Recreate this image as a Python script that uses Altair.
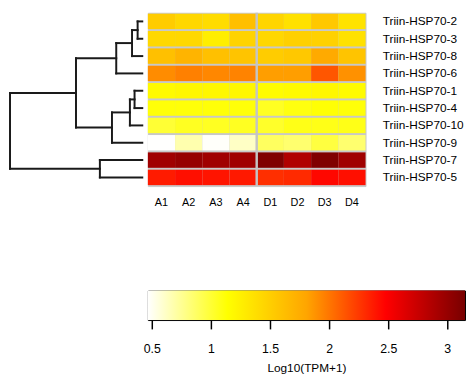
import altair as alt
import pandas as pd

# ---------------- data ----------------
genes = ["Triin-HSP70-2", "Triin-HSP70-3", "Triin-HSP70-8", "Triin-HSP70-6",
         "Triin-HSP70-1", "Triin-HSP70-4", "Triin-HSP70-10", "Triin-HSP70-9",
         "Triin-HSP70-7", "Triin-HSP70-5"]
samples = ["A1", "A2", "A3", "A4", "D1", "D2", "D3", "D4"]

v_hsp2 = [1.52, 1.44, 1.40, 1.62, 1.45, 1.36, 1.55, 1.35]
v_hsp3 = [1.43, 1.43, 1.27, 1.47, 1.44, 1.49, 1.48, 1.36]
v_hsp8 = [1.61, 1.70, 1.61, 1.58, 1.52, 1.55, 1.77, 1.58]
v_hsp6 = [1.91, 1.96, 1.93, 1.95, 1.84, 1.84, 2.13, 1.89]
v_hsp1 = [1.18, 1.20, 1.20, 1.20, 1.16, 1.18, 1.20, 1.17]
v_hsp4 = [1.12, 1.12, 1.12, 1.12, 1.05, 1.10, 1.13, 1.12]
v_hsp10 = [1.00, 1.05, 1.05, 1.05, 1.03, 1.08, 1.08, 1.08]
v_hsp9 = [0.47, 0.68, 0.48, 0.62, 0.89, 0.85, 0.97, 0.85]
v_hsp7 = [2.95, 3.00, 2.95, 2.95, 3.11, 2.87, 3.11, 2.95]
v_hsp5 = [2.37, 2.42, 2.40, 2.38, 2.29, 2.31, 2.45, 2.42]
rows = [v_hsp2, v_hsp3, v_hsp8, v_hsp6, v_hsp1, v_hsp4, v_hsp10, v_hsp9, v_hsp7, v_hsp5]

# dendrogram merges: (left, right, height)
merges = [
    ("Triin-HSP70-2", "Triin-HSP70-3", 5.0),     # n1
    ("n1", "Triin-HSP70-8", 11.0),              # n2
    ("n2", "Triin-HSP70-6", 28.0),              # n3
    ("Triin-HSP70-1", "Triin-HSP70-4", 8.3),     # n4
    ("n4", "Triin-HSP70-10", 13.3),             # n5
    ("n5", "Triin-HSP70-9", 32.6),              # n6
    ("n3", "n6", 71.3),                         # n7
    ("Triin-HSP70-7", "Triin-HSP70-5", 45.6),    # n8
    ("n7", "n8", 142.3),                        # n9 (root)
]

# colour scale
color_domain = [0.467, 1.14, 1.81, 2.48, 3.15]
color_range = ["#FFFFFF", "#FFFF00", "#FFA500", "#FF0000", "#780000"]
cb_ticks = [0.5, 1, 1.5, 2, 2.5, 3]

FONT = "Liberation Sans"

# ---------------- tables ----------------
heat_df = pd.DataFrame(
    [{"gene": g, "sample": s, "value": v}
     for g, r in zip(genes, rows) for s, v in zip(samples, r)]
)

pos = {g: float(i) for i, g in enumerate(genes)}
hgt = {g: 0.0 for g in genes}
segs = []
for k, (a, b, h) in enumerate(merges, start=1):
    ya, yb = pos[a], pos[b]
    segs.append({"x1": hgt[a], "x2": h, "y1": ya, "y2": ya})
    segs.append({"x1": hgt[b], "x2": h, "y1": yb, "y2": yb})
    segs.append({"x1": h, "x2": h, "y1": ya, "y2": yb})
    name = f"n{k}"
    pos[name] = (ya + yb) / 2
    hgt[name] = h
dendro_df = pd.DataFrame(segs)

# ---------------- charts ----------------
H = 176
dendro = alt.Chart(dendro_df).mark_rule(
    color="#1a1a1a", strokeWidth=2, strokeCap="square"
).encode(
    x=alt.X("x1:Q", scale=alt.Scale(domain=[143.4, -3.9], nice=False, zero=False), axis=None),
    x2="x2",
    y=alt.Y("y1:Q", scale=alt.Scale(domain=[-0.5, len(genes) - 0.5], reverse=True, nice=False, zero=False), axis=None),
    y2="y2",
).properties(width=139, height=H, view=alt.ViewBackground(stroke=None))

cells = alt.Chart(heat_df).mark_rect().encode(
    x=alt.X("sample:O", sort=samples, scale=alt.Scale(paddingInner=0, paddingOuter=0),
            axis=alt.Axis(title=None, orient="bottom", labelAngle=0, ticks=False, domain=False,
                          labelPadding=11, labelFontSize=11, labelFont=FONT, labelColor="black")),
    y=alt.Y("gene:O", sort=genes, scale=alt.Scale(paddingInner=0.11, paddingOuter=0.055),
            axis=alt.Axis(title=None, orient="right", ticks=False, domain=False,
                          labelPadding=17, labelFontSize=12, labelFont=FONT, labelColor="black")),
    color=alt.Color("value:Q", scale=alt.Scale(domain=color_domain, range=color_range,
                                               interpolate="rgb", clamp=True), legend=None),
)

sep = alt.Chart(pd.DataFrame({"s": ["D1"]})).mark_rule(color="#c4c4c4", strokeWidth=2.5).encode(
    x=alt.X("s:O", sort=samples, bandPosition=0)
)

heat = alt.layer(cells, sep).properties(
    width=221, height=H,
    view=alt.ViewBackground(fill="#c8c8c8", stroke="#c8c8c8", strokeWidth=1),
)

lo, hi = color_domain[0], color_domain[-1]
stops = [alt.GradientStop(color=c, offset=(d - lo) / (hi - lo)) for d, c in zip(color_domain, color_range)]
cbar = alt.Chart(pd.DataFrame({"lo": [lo], "hi": [hi]})).mark_rect(
    fill=alt.LinearGradient(gradient="linear", stops=stops, x1=0, x2=1, y1=0, y2=0)
).encode(
    x=alt.X("lo:Q", scale=alt.Scale(domain=[lo, hi], nice=False, zero=False),
            axis=alt.Axis(values=cb_ticks, format="~g", tickSize=9, tickWidth=1.5, tickColor="black",
                          domain=False, grid=False, labelFlush=False, labelPadding=14,
                          labelFontSize=12.5, labelFont=FONT, labelColor="black",
                          title="Log10(TPM+1)", titleFont=FONT, titleFontSize=12,
                          titleFontWeight="normal", titleColor="black", titlePadding=8)),
    x2="hi",
).properties(width=322, height=30, view=alt.ViewBackground(stroke="black", strokeWidth=1))

right = alt.vconcat(heat, cbar, spacing=106, bounds="flush")
chart = alt.hconcat(dendro, right, spacing=2, bounds="flush").properties(
    padding=0, background="white"
).configure_view(stroke=None)

chart.save("out.html", embed_options={"renderer": "svg", "actions": False})
